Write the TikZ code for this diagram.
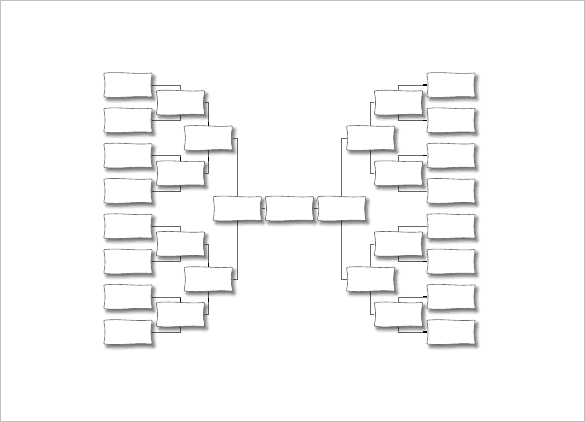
\documentclass[tikz,border=0pt]{standalone}
\usetikzlibrary{shadows.blur}
\pgfdeclarelayer{bg}
\pgfsetlayers{bg,main}
\tikzset{
  slot/.style={rectangle, minimum width=48pt, minimum height=24pt, inner sep=0pt},
  slotline/.style={draw=black!58, line width=0.6pt, fill=white,
    blur shadow={shadow xshift=2.5pt, shadow yshift=-3pt, shadow blur radius=3pt, shadow opacity=60}},
  link/.style={draw=black!60, line width=0.6pt},
  tickmark/.style={draw=black, line width=1.3pt},
  frame/.style={draw=black!25, line width=1pt}
}
\newcommand\slotbox[3]{%
  \node[slot] (#1) at (#2,#3) {};
  \path[slotline, shift={(#2,#3)}] (-23,-12) .. controls (-8,-13.5) and (8,-10.5) .. (23,-12)
    .. controls (24,-12) and (24.5,-11) .. (24,-10)
    .. controls (22.6,-4) and (22.6,4) .. (24,10)
    .. controls (24.5,11) and (24,12) .. (23,12)
    .. controls (8,10.5) and (-8,13.5) .. (-23,12)
    .. controls (-24,12) and (-24.5,11) .. (-24,10)
    .. controls (-22.6,4) and (-22.6,-4) .. (-24,-10)
    .. controls (-24.5,-11) and (-24,-12) .. (-23,-12) -- cycle;}
\begin{document}
\begin{tikzpicture}[x=1pt,y=-1pt]
\useasboundingbox (0,0) rectangle (585,422);
\draw[frame] (0.5,0.5) rectangle (584.5,421.5);
% round 1
\foreach \i/\y in {1/85,2/120.3,3/155.6,4/190.9,5/226.2,6/261.5,7/296.8,8/332.1}{
  \slotbox{La\i}{128}{\y}
  \slotbox{Ra\i}{451}{\y}
}
% round 2
\foreach \i/\y in {1/102.65,2/173.25,3/243.85,4/314.45}{
  \slotbox{Lb\i}{180.5}{\y}
  \slotbox{Rb\i}{398.5}{\y}
}
% round 3
\foreach \i/\y in {1/137.95,2/279.15}{
  \slotbox{Lc\i}{208.3}{\y}
  \slotbox{Rc\i}{370.7}{\y}
}
% final
\slotbox{FL}{237.3}{208.55}
\slotbox{FM}{289.5}{208.55}
\slotbox{FR}{341.7}{208.55}
\begin{pgfonlayer}{bg}
\foreach \i/\j in {1/1,2/1,3/2,4/2,5/3,6/3,7/4,8/4}{
  \draw[link] (La\i) -| (Lb\j);
  \draw[link] (Ra\i) -| (Rb\j);
}
\foreach \i/\j in {1/1,2/1,3/2,4/2}{
  \draw[link] (Lb\i) -| (Lc\j);
  \draw[link] (Rb\i) -| (Rc\j);
}
\foreach \i in {1,2}{
  \draw[link] (Lc\i) -| (FL);
  \draw[link] (Rc\i) -| (FR);
}
\draw[link] (FL) -- (FM) -- (FR);
\end{pgfonlayer}
% small dark marks
\foreach \n in {Lb2,Lb4}{
  \draw[tickmark] ([yshift=4pt]\n.north) -- (\n.north);
}
\foreach \n/\c in {Lc1/Lc1,Lb2/Lc1,Lc2/Lc2,Lb4/Lc2}{
  \draw[tickmark] ([yshift=4pt]\n.north -| \c) -- (\n.north -| \c);
}
\foreach \n in {Ra1,Ra2,Ra3,Ra6,Ra7,Ra8}{
  \draw[tickmark] ([xshift=-4pt]\n.west) -- (\n.west);
}
\end{tikzpicture}
\end{document}
